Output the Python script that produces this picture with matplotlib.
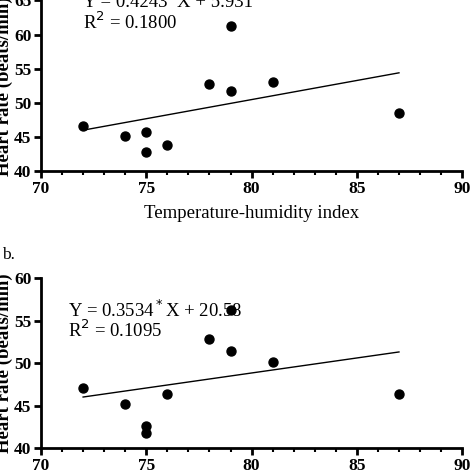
import matplotlib.pyplot as plt

plt.rcParams['font.family'] = ['Liberation Serif', 'DejaVu Serif']

thi_a = [72, 74, 75, 75, 76, 78, 79, 79, 81, 87]
hr_a = [46.6, 45.2, 45.7, 42.8, 43.8, 52.7, 61.2, 51.8, 53.0, 48.5]
fit_a = [46.0, 54.4]

thi_b = [72, 74, 75, 75, 76, 78, 79, 79, 81, 87]
hr_b = [47.1, 45.2, 42.6, 41.8, 46.4, 52.8, 56.2, 51.4, 50.1, 46.4]
fit_b = [46.0, 51.3]

fit_x = [72, 87]

fig = plt.figure(figsize=(4.74, 4.74), dpi=100)
ax1 = fig.add_axes([0.0865, 0.639, 0.8885, 0.36])
ax2 = fig.add_axes([0.0865, 0.0548, 0.8885, 0.3587])


def style(ax, ylim, yticks):
    ax.set_xlim(70, 90)
    ax.set_ylim(*ylim)
    ax.set_yticks(yticks)
    ax.set_xticks([70, 75, 80, 85, 90])
    ax.set_xticks(range(70, 91), minor=True)
    for s in ['top', 'right']:
        ax.spines[s].set_visible(False)
    for s in ['left', 'bottom']:
        ax.spines[s].set_linewidth(2)
    ax.tick_params(width=2, length=5, labelsize=12.5, pad=2)
    ax.tick_params(which='minor', width=1.5, length=3)
    for lab in ax.get_xticklabels() + ax.get_yticklabels():
        lab.set_fontweight('bold')
    ax.set_ylabel('Heart rate (beats/min)', fontsize=13.5, fontweight='bold', labelpad=1)


ax1.scatter(thi_a, hr_a, s=42, color='black', zorder=3, clip_on=False)
ax1.plot(fit_x, fit_a, color='black', lw=1)
style(ax1, (40, 65), [40, 45, 50, 55, 60, 65])
ax1.set_xlabel('Temperature-humidity index', fontsize=13.5, labelpad=6)
ax1.text(0.1, 0.99, 'Y = 0.4243  X + 5.931', transform=ax1.transAxes, fontsize=13.5, va='center')
ax1.text(0.1, 0.87, 'R$^2$ = 0.1800', transform=ax1.transAxes, fontsize=13.5, va='center')

ax2.scatter(thi_b, hr_b, s=42, color='black', zorder=3, clip_on=False)
ax2.plot(fit_x, fit_b, color='black', lw=1)
style(ax2, (40, 60), [40, 45, 50, 55, 60])
ax2.text(0.065, 0.81, 'Y = 0.3534$^*$X + 20.58', transform=ax2.transAxes, fontsize=13.5, va='center')
ax2.text(0.065, 0.69, 'R$^2$ = 0.1095', transform=ax2.transAxes, fontsize=13.5, va='center')

fig.text(0.005, 0.462, 'b.', fontsize=12.5, va='center')

fig.savefig('out.png', dpi=100)
